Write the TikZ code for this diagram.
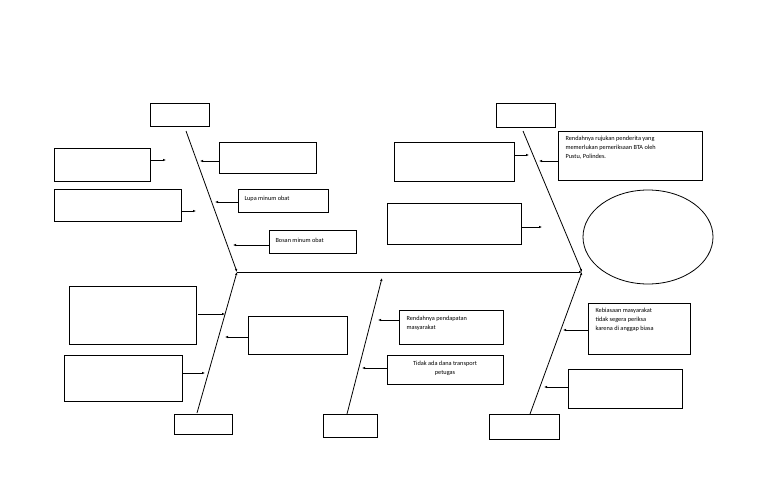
\documentclass[tikz,border=0pt]{standalone}
\usepackage{fontspec}
\setmainfont{Carlito}
\usetikzlibrary{arrows.meta}
\begin{document}
\begin{tikzpicture}[x=1pt,y=-1pt,
 bx/.style={draw,line width=0.8pt},
 ar/.style={-{Latex[length=3pt,width=2.5pt]},line width=0.6pt},
 bone/.style={line width=0.8pt,-{Latex[length=3pt,width=2.5pt]}},
 lbl/.style={font=\fontsize{6.3}{9}\selectfont,align=left}]
\useasboundingbox (0,0) rectangle (768,503);
% top-left
\draw[bx] (150,103) rectangle (209,126);
\coordinate (tl1) at (186,131); \coordinate (hl) at (237,272);
\draw[bone] (tl1) -- (hl);
\draw[bx] (54,148) rectangle (150,181); \draw[ar] (150,160) -- (166,160);
\draw[bx] (219,142) rectangle (316,173); \draw[ar] (219,161) -- (200,161);
\draw[bx] (54,189) rectangle (181,221); \draw[ar] (181,211) -- (196,211);
\draw[bx] (238,189) rectangle (328,212); \node[lbl,anchor=west] (lupa) at (241,199) {Lupa minum obat};
\draw[ar] (238,202) -- (215,202);
\draw[bx] (269,230) rectangle (356,253); \node[lbl,anchor=west] (bosan) at (272,240) {Bosan minum obat};
\draw[ar] (269,245) -- (233,245);
% spine
\coordinate (hr) at (582,272);
\draw[bone,line width=0.6pt] (hl) -- (hr);
% top-right
\draw[bx] (496,103) rectangle (555,127);
\coordinate (tr1) at (523,131);
\draw[bone] (tr1) -- (hr);
\draw[bx] (394,142) rectangle (514,181); \draw[ar] (514,155) -- (529,155);
\draw[bx] (558,131) rectangle (702,180);
\node[lbl,anchor=north west] (rujuk) at (562,133) {Rendahnya rujukan penderita yang\\memerlukan pemeriksaan BTA oleh\\Pustu, Polindes.};
\draw[ar] (558,161) -- (539,161);
\draw[bx] (387,203) rectangle (521,244); \draw[ar] (521,227) -- (542,227);
\draw[line width=0.8pt] (648,237) ellipse [x radius=65, y radius=47];
% bottom-left
\draw[bx] (174,414) rectangle (232,434);
\coordinate (bl1) at (197,413);
\draw[bone] (bl1) -- (hl);
\draw[bx] (69,286) rectangle (196,344); \draw[ar] (198,314) -- (225,314);
\draw[bx] (248,316) rectangle (347,354); \draw[ar] (248,337) -- (225,337);
\draw[bx] (64,355) rectangle (182,401); \draw[ar] (182,373) -- (205,373);
% bottom-middle
\draw[bx] (323,414) rectangle (377,437);
\coordinate (bm1) at (347,414); \coordinate (bm2) at (382,278);
\draw[bone] (bm1) -- (bm2);
\draw[bx] (399,310) rectangle (503,344);
\node[lbl,anchor=north west] (pend) at (403,313) {Rendahnya pendapatan\\masyarakat};
\draw[ar] (399,320) -- (378,320);
\draw[bx] (387,355) rectangle (503,384);
\node[lbl,align=center] (tidak) at (445,368) {Tidak ada dana transport\\petugas};
\draw[ar] (387,368) -- (362,368);
% bottom-right
\draw[bx] (489,414) rectangle (559,439);
\coordinate (br1) at (530,414);
\draw[bone] (br1) -- (hr);
\draw[bx] (588,303) rectangle (690,354);
\node[lbl,anchor=north west] (kebi) at (592,305) {Kebiasaan masyarakat\\tidak segera periksa\\karena di anggap biasa};
\draw[ar] (588,330) -- (563,330);
\draw[bx] (568,369) rectangle (682,408); \draw[ar] (568,387) -- (544,387);
\end{tikzpicture}
\end{document}
